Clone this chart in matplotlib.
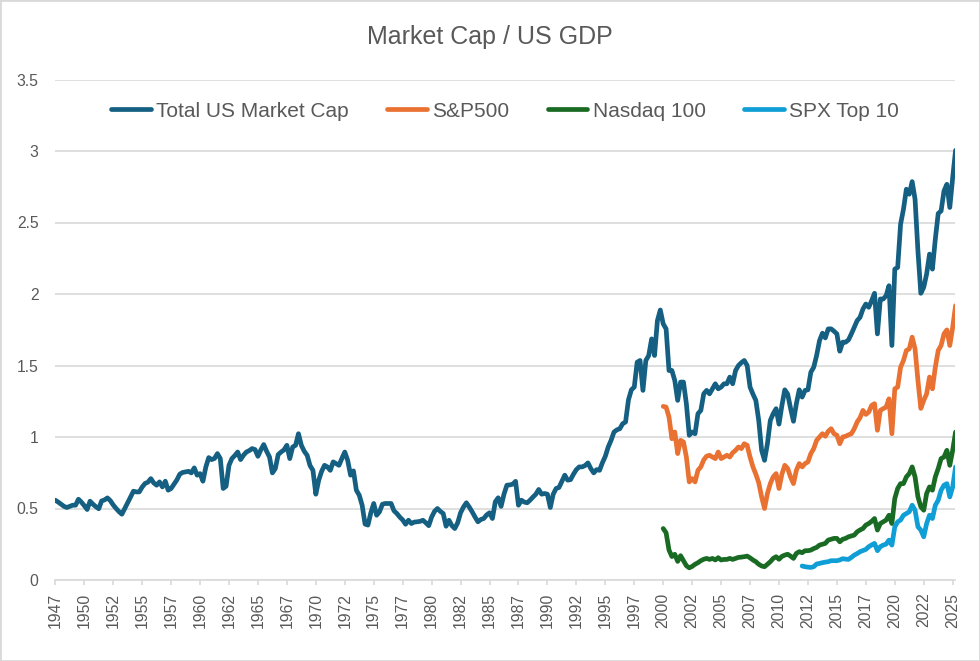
import numpy as np
import pandas as pd
import matplotlib
matplotlib.use('Agg')
import matplotlib.pyplot as plt
from matplotlib.patches import Rectangle

# quarterly ratios, first quarter 1947Q4
FIRST_QUARTER = '1947Q4'
total_mcap = [
    0.558, 0.545, 0.530, 0.515, 0.507, 0.515, 0.523, 0.523, 0.565, 0.545,
    0.520, 0.493, 0.551, 0.530, 0.513, 0.498, 0.553, 0.560, 0.574, 0.555,
    0.525, 0.500, 0.478, 0.460, 0.500, 0.540, 0.580, 0.621, 0.616, 0.616,
    0.650, 0.675, 0.684, 0.709, 0.679, 0.663, 0.686, 0.651, 0.691, 0.628,
    0.640, 0.670, 0.700, 0.740, 0.752, 0.756, 0.760, 0.749, 0.784, 0.733,
    0.744, 0.691, 0.790, 0.856, 0.842, 0.850, 0.884, 0.849, 0.640, 0.656,
    0.802, 0.849, 0.870, 0.895, 0.842, 0.872, 0.895, 0.905, 0.919, 0.912,
    0.865, 0.910, 0.947, 0.900, 0.860, 0.749, 0.779, 0.877, 0.895, 0.910,
    0.942, 0.849, 0.930, 0.942, 1.023, 0.942, 0.900, 0.872, 0.800, 0.767,
    0.600, 0.698, 0.760, 0.802, 0.791, 0.767, 0.826, 0.814, 0.802, 0.850,
    0.895, 0.837, 0.733, 0.763, 0.628, 0.593, 0.523, 0.391, 0.384, 0.470,
    0.535, 0.453, 0.477, 0.530, 0.535, 0.535, 0.535, 0.484, 0.465, 0.440,
    0.420, 0.390, 0.418, 0.395, 0.405, 0.407, 0.410, 0.418, 0.400, 0.380,
    0.440, 0.480, 0.500, 0.480, 0.465, 0.376, 0.418, 0.380, 0.360, 0.400,
    0.470, 0.510, 0.540, 0.510, 0.477, 0.440, 0.407, 0.423, 0.430, 0.455,
    0.470, 0.430, 0.547, 0.575, 0.515, 0.600, 0.663, 0.665, 0.670, 0.690,
    0.523, 0.558, 0.545, 0.540, 0.558, 0.580, 0.600, 0.633, 0.600, 0.605,
    0.600, 0.507, 0.600, 0.640, 0.647, 0.690, 0.733, 0.698, 0.702, 0.740,
    0.772, 0.791, 0.791, 0.800, 0.819, 0.779, 0.749, 0.772, 0.767, 0.820,
    0.865, 0.930, 0.977, 1.035, 1.050, 1.058, 1.093, 1.105, 1.260, 1.330,
    1.349, 1.523, 1.535, 1.326, 1.535, 1.570, 1.686, 1.570, 1.814, 1.888,
    1.791, 1.756, 1.465, 1.465, 1.395, 1.256, 1.384, 1.384, 1.233, 1.012,
    1.035, 1.023, 1.163, 1.186, 1.302, 1.326, 1.302, 1.337, 1.372, 1.337,
    1.349, 1.372, 1.372, 1.419, 1.372, 1.465, 1.500, 1.520, 1.535, 1.500,
    1.349, 1.300, 1.256, 1.116, 0.907, 0.837, 0.953, 1.116, 1.163, 1.198,
    1.090, 1.220, 1.330, 1.300, 1.200, 1.110, 1.233, 1.330, 1.279, 1.326,
    1.330, 1.453, 1.488, 1.570, 1.674, 1.726, 1.693, 1.756, 1.756, 1.740,
    1.721, 1.600, 1.663, 1.663, 1.679, 1.721, 1.767, 1.814, 1.837, 1.895,
    1.930, 1.907, 1.953, 2.005, 1.721, 1.965, 1.965, 1.988, 2.058, 1.640,
    2.174, 2.186, 2.488, 2.593, 2.733, 2.698, 2.786, 2.663, 2.300, 2.005,
    2.047, 2.140, 2.279, 2.174, 2.384, 2.563, 2.581, 2.721, 2.767, 2.605,
    2.814, 3.005,
]

SP500_START = '2000Q2'
sp500 = [
    1.214, 1.209, 1.140, 0.988, 1.035, 0.884, 0.977, 0.965, 0.860, 0.686,
    0.709, 0.686, 0.767, 0.791, 0.840, 0.866, 0.872, 0.860, 0.849, 0.895,
    0.849, 0.860, 0.872, 0.860, 0.890, 0.907, 0.930, 0.919, 0.953, 0.942,
    0.860, 0.791, 0.740, 0.680, 0.581, 0.500, 0.605, 0.674, 0.721, 0.744,
    0.640, 0.740, 0.802, 0.780, 0.720, 0.674, 0.767, 0.814, 0.791, 0.814,
    0.826, 0.884, 0.919, 0.977, 1.000, 1.023, 1.005, 1.040, 1.058, 1.023,
    1.012, 0.953, 1.000, 1.005, 1.015, 1.023, 1.058, 1.105, 1.135, 1.186,
    1.158, 1.174, 1.221, 1.233, 1.047, 1.186, 1.198, 1.209, 1.267, 1.023,
    1.337, 1.349, 1.488, 1.535, 1.605, 1.616, 1.698, 1.616, 1.395, 1.200,
    1.256, 1.302, 1.419, 1.337, 1.488, 1.605, 1.640, 1.721, 1.749, 1.640,
    1.767, 1.919,
]

NDX_START = '2000Q2'
nasdaq100 = [
    0.360, 0.330, 0.210, 0.164, 0.180, 0.130, 0.170, 0.135, 0.100, 0.085,
    0.095, 0.110, 0.121, 0.135, 0.145, 0.151, 0.144, 0.151, 0.140, 0.156,
    0.140, 0.144, 0.144, 0.151, 0.144, 0.151, 0.158, 0.160, 0.163, 0.167,
    0.155, 0.140, 0.128, 0.110, 0.098, 0.093, 0.110, 0.128, 0.151, 0.163,
    0.145, 0.165, 0.174, 0.180, 0.167, 0.151, 0.186, 0.198, 0.191, 0.205,
    0.205, 0.209, 0.220, 0.228, 0.244, 0.250, 0.256, 0.279, 0.285, 0.291,
    0.291, 0.267, 0.285, 0.291, 0.302, 0.308, 0.314, 0.337, 0.350, 0.360,
    0.384, 0.395, 0.410, 0.430, 0.349, 0.395, 0.407, 0.419, 0.453, 0.395,
    0.570, 0.640, 0.674, 0.674, 0.721, 0.744, 0.791, 0.721, 0.581, 0.512,
    0.488, 0.605, 0.651, 0.628, 0.721, 0.779, 0.849, 0.860, 0.907, 0.802,
    0.907, 1.035,
]

TOP10_START = '2012Q2'
spx_top10 = [
    0.098, 0.093, 0.090, 0.088, 0.093, 0.112, 0.116, 0.121, 0.125, 0.128,
    0.135, 0.135, 0.135, 0.140, 0.149, 0.146, 0.144, 0.158, 0.174, 0.185,
    0.198, 0.206, 0.214, 0.233, 0.245, 0.256, 0.205, 0.233, 0.244, 0.251,
    0.279, 0.244, 0.372, 0.407, 0.419, 0.453, 0.465, 0.477, 0.523, 0.488,
    0.372, 0.349, 0.302, 0.395, 0.453, 0.430, 0.523, 0.558, 0.628, 0.663,
    0.674, 0.581, 0.651, 0.791,
]

SERIES = [
    ('Total US Market Cap', total_mcap, FIRST_QUARTER, '#156082'),
    ('S&P500', sp500, SP500_START, '#E97132'),
    ('Nasdaq 100', nasdaq100, NDX_START, '#196B24'),
    ('SPX Top 10', spx_top10, TOP10_START, '#0F9ED5'),
]
GREY = '#595959'
GRID = '#D9D9D9'

quarters = pd.period_range(FIRST_QUARTER, periods=len(total_mcap), freq='Q')
pos = {q: i for i, q in enumerate(quarters)}

plt.rcParams['font.family'] = ['Liberation Sans', 'DejaVu Sans']
fig = plt.figure(figsize=(9.8, 6.61), dpi=100)
ax = fig.add_axes([55.3 / 980, 81 / 661, 899.7 / 980, 500.5 / 661])

for name, vals, start, col in SERIES:
    i0 = pos[pd.Period(start, freq='Q')]
    x = np.arange(i0, i0 + len(vals))
    ax.plot(x, vals, color=col, lw=3.4, label=name,
            solid_joinstyle='round', solid_capstyle='round')

ax.set_xlim(0, 310.8)
ax.set_ylim(0, 3.5)
yt = np.arange(0, 3.51, 0.5)
ax.set_yticks(yt)
ax.set_yticklabels([f'{v:g}' for v in yt])
ticks = np.arange(0, len(quarters), 10)
ax.set_xticks(ticks)
ax.set_xticklabels([str(quarters[t].year) for t in ticks], rotation=90)

ax.grid(axis='y', color=GRID, lw=1.2)
ax.set_axisbelow(True)
for s in ['top', 'right', 'left']:
    ax.spines[s].set_visible(False)
ax.spines['bottom'].set_color(GRID)
ax.spines['bottom'].set_linewidth(1.2)
ax.tick_params(axis='y', length=0, pad=12, labelsize=11.3, labelcolor=GREY)
ax.tick_params(axis='x', length=3.6, width=1.2, color=GRID, pad=5.5,
               labelsize=11.3, labelcolor=GREY)

ax.legend(loc='center', bbox_to_anchor=(0.5, 0.937), ncol=4, frameon=False,
          fontsize=15, labelcolor=GREY, handlelength=1.9, handletextpad=0.25,
          columnspacing=1.85)

fig.text(0.5, 1 - 37 / 661, 'Market Cap / US GDP', ha='center', va='center',
         fontsize=18, color=GREY)
fig.patches.append(Rectangle((0, 0), 1, 1, transform=fig.transFigure,
                             fill=False, edgecolor=GRID, lw=2))

fig.savefig('out.png', dpi=100)
